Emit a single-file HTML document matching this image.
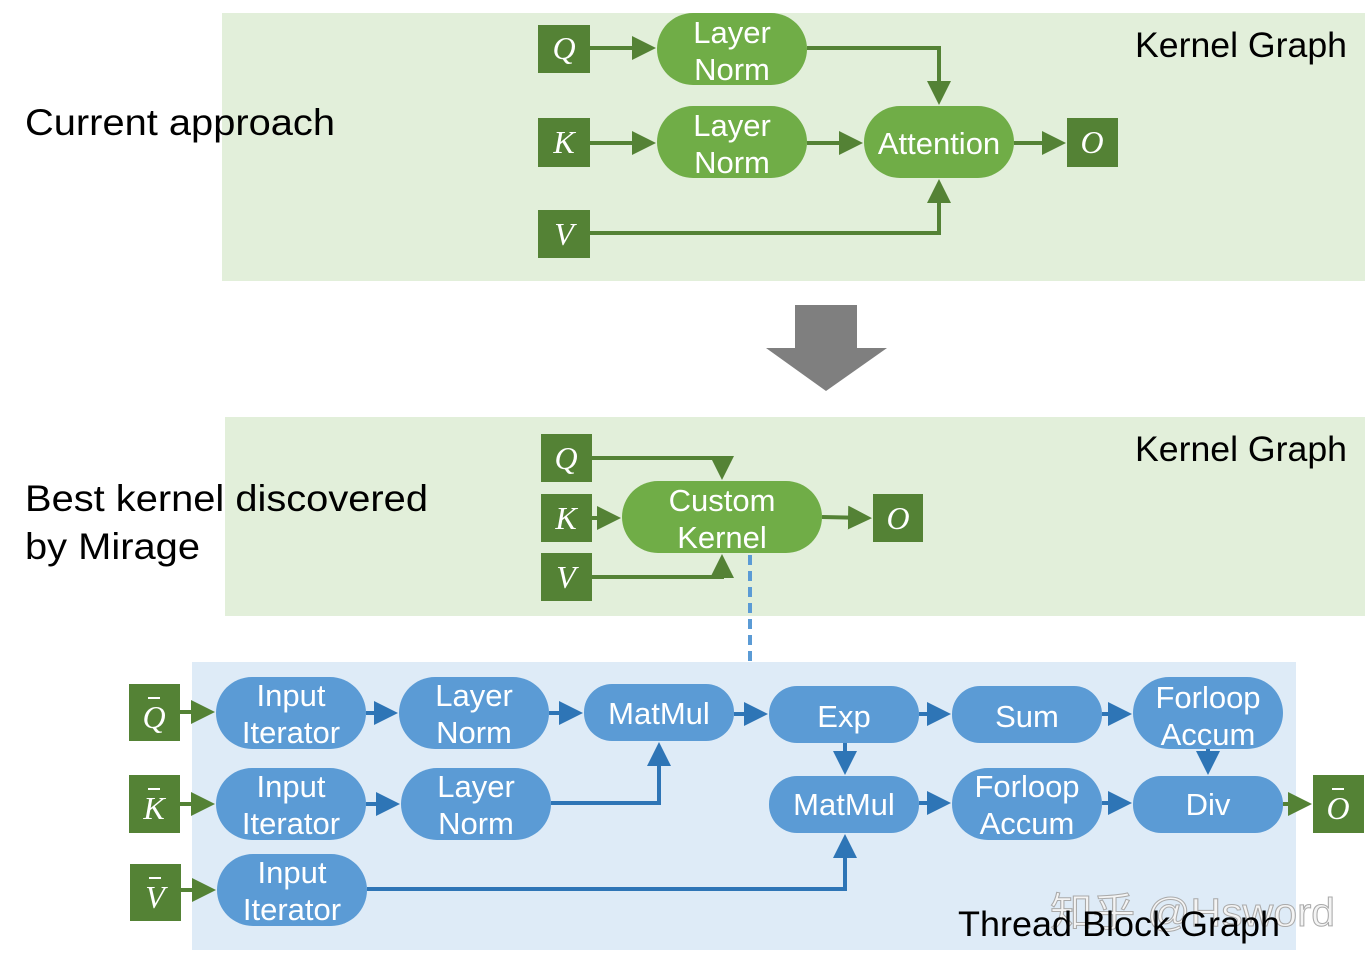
<!DOCTYPE html>
<html><head><meta charset="utf-8"><style>
html,body{margin:0;padding:0;background:#fff;}
svg{display:block;}
.t{font-family:"Liberation Sans",sans-serif;}
.n{font-family:"Liberation Sans",sans-serif;fill:#fff;font-size:31px;text-anchor:middle;}
.v{font-family:"Liberation Serif",serif;font-style:italic;fill:#fff;font-size:32px;text-anchor:middle;}
</style></head><body>
<svg width="1372" height="968" viewBox="0 0 1372 968" xmlns="http://www.w3.org/2000/svg">
<defs>
<marker id="ag" markerWidth="6" markerHeight="6" refX="5" refY="3" orient="auto" markerUnits="strokeWidth"><path d="M0,0 L6,3 L0,6 z" fill="#548235"/></marker>
<marker id="ab" markerWidth="6" markerHeight="6" refX="5" refY="3" orient="auto" markerUnits="strokeWidth"><path d="M0,0 L6,3 L0,6 z" fill="#2e75b6"/></marker>
</defs>
<rect x="222" y="13" width="1143" height="268" fill="#e2efda"/>
<rect x="225" y="417" width="1140" height="199" fill="#e2efda"/>
<rect x="192" y="662" width="1104" height="288" fill="#deebf7"/>

<text class="t" x="25" y="135" font-size="37" textLength="310" lengthAdjust="spacingAndGlyphs">Current approach</text>
<text class="t" x="1135" y="57" font-size="35" textLength="212" lengthAdjust="spacingAndGlyphs">Kernel Graph</text>
<text class="t" x="1135" y="461" font-size="35" textLength="212" lengthAdjust="spacingAndGlyphs">Kernel Graph</text>
<text class="t" x="25" y="511" font-size="37" textLength="403" lengthAdjust="spacingAndGlyphs">Best kernel discovered</text>
<text class="t" x="25" y="559" font-size="37" textLength="175" lengthAdjust="spacingAndGlyphs">by Mirage</text>

<g stroke="#548235" stroke-width="4" fill="none">
<line x1="590" y1="48" x2="652" y2="48" marker-end="url(#ag)"/>
<polyline points="807,48 939,48 939,101" marker-end="url(#ag)"/>
<line x1="590" y1="143" x2="652" y2="143" marker-end="url(#ag)"/>
<line x1="807" y1="143" x2="859" y2="143" marker-end="url(#ag)"/>
<line x1="1014" y1="143" x2="1062" y2="143" marker-end="url(#ag)"/>
<polyline points="590,233 939,233 939,183" marker-end="url(#ag)"/>
</g>
<rect x="538" y="25" width="52" height="48" fill="#548235"/><text class="v" x="564" y="59">Q</text>
<rect x="538" y="118" width="52" height="49" fill="#548235"/><text class="v" x="564" y="153">K</text>
<rect x="538" y="210" width="52" height="48" fill="#548235"/><text class="v" x="564" y="245">V</text>
<rect x="1067" y="118" width="51" height="49" fill="#548235"/><text class="v" x="1092" y="153">O</text>
<rect x="657" y="13" width="150" height="72" rx="36" fill="#70ad47"/><text class="n" x="732" y="43">Layer</text><text class="n" x="732" y="80">Norm</text>
<rect x="657" y="106" width="150" height="72" rx="36" fill="#70ad47"/><text class="n" x="732" y="136">Layer</text><text class="n" x="732" y="173">Norm</text>
<rect x="864" y="106" width="150" height="72" rx="36" fill="#70ad47"/><text class="n" x="939" y="154">Attention</text>

<path d="M795,305 H857 V348 H887 L826,391 L766,348 H795 Z" fill="#7f7f7f"/>

<g stroke="#548235" stroke-width="4" fill="none">
<polyline points="592,458 722,458 722,476" marker-end="url(#ag)"/>
<line x1="592" y1="518" x2="617" y2="518" marker-end="url(#ag)"/>
<polyline points="592,577 722,577 722,558" marker-end="url(#ag)"/>
<line x1="822" y1="517" x2="868" y2="518" marker-end="url(#ag)"/>
</g>
<line x1="750" y1="555" x2="750" y2="662" stroke="#5b9bd5" stroke-width="4" stroke-dasharray="10,6"/>
<rect x="541" y="434" width="51" height="48" fill="#548235"/><text class="v" x="566" y="469">Q</text>
<rect x="541" y="494" width="51" height="48" fill="#548235"/><text class="v" x="566" y="529">K</text>
<rect x="541" y="553" width="51" height="48" fill="#548235"/><text class="v" x="566" y="588">V</text>
<rect x="873" y="494" width="50" height="48" fill="#548235"/><text class="v" x="898" y="529">O</text>
<rect x="622" y="481" width="200" height="72" rx="36" fill="#70ad47"/><text class="n" x="722" y="511">Custom</text><text class="n" x="722" y="548">Kernel</text>

<g stroke="#548235" stroke-width="4" fill="none">
<line x1="180" y1="712" x2="211" y2="712" marker-end="url(#ag)"/>
<line x1="180" y1="804" x2="211" y2="804" marker-end="url(#ag)"/>
<line x1="181" y1="890" x2="212" y2="890" marker-end="url(#ag)"/>
<line x1="1283" y1="804" x2="1308" y2="804" marker-end="url(#ag)"/>
</g>
<g stroke="#2e75b6" stroke-width="4" fill="none">
<line x1="366" y1="713" x2="394" y2="713" marker-end="url(#ab)"/>
<line x1="549" y1="713" x2="579" y2="713" marker-end="url(#ab)"/>
<line x1="734" y1="714" x2="764" y2="714" marker-end="url(#ab)"/>
<line x1="919" y1="714" x2="947" y2="714" marker-end="url(#ab)"/>
<line x1="1102" y1="714" x2="1128" y2="714" marker-end="url(#ab)"/>
<line x1="366" y1="804" x2="396" y2="804" marker-end="url(#ab)"/>
<polyline points="551,803 659,803 659,746" marker-end="url(#ab)"/>
<line x1="845" y1="743" x2="845" y2="771" marker-end="url(#ab)"/>
<line x1="1208" y1="749" x2="1208" y2="771" marker-end="url(#ab)"/>
<line x1="919" y1="803" x2="947" y2="803" marker-end="url(#ab)"/>
<line x1="1102" y1="803" x2="1128" y2="803" marker-end="url(#ab)"/>
<polyline points="367,889 845,889 845,838" marker-end="url(#ab)"/>
</g>
<g fill="#5b9bd5">
<rect x="216" y="677" width="150" height="72" rx="36"/>
<rect x="399" y="677" width="150" height="72" rx="36"/>
<rect x="584" y="684" width="150" height="57" rx="28"/>
<rect x="769" y="686" width="150" height="57" rx="28"/>
<rect x="952" y="686" width="150" height="57" rx="28"/>
<rect x="1133" y="677" width="150" height="72" rx="36"/>
<rect x="216" y="768" width="150" height="72" rx="36"/>
<rect x="401" y="768" width="150" height="72" rx="36"/>
<rect x="769" y="776" width="150" height="57" rx="28"/>
<rect x="952" y="768" width="150" height="72" rx="36"/>
<rect x="1133" y="776" width="150" height="57" rx="28"/>
<rect x="217" y="854" width="150" height="72" rx="36"/>
</g>
<text class="n" x="291" y="706">Input</text><text class="n" x="291" y="743">Iterator</text>
<text class="n" x="474" y="706">Layer</text><text class="n" x="474" y="743">Norm</text>
<text class="n" x="659" y="724">MatMul</text>
<text class="n" x="844" y="727">Exp</text>
<text class="n" x="1027" y="727">Sum</text>
<text class="n" x="1208" y="708">Forloop</text><text class="n" x="1208" y="745">Accum</text>
<text class="n" x="291" y="797">Input</text><text class="n" x="291" y="834">Iterator</text>
<text class="n" x="476" y="797">Layer</text><text class="n" x="476" y="834">Norm</text>
<text class="n" x="844" y="815">MatMul</text>
<text class="n" x="1027" y="797">Forloop</text><text class="n" x="1027" y="834">Accum</text>
<text class="n" x="1208" y="815">Div</text>
<text class="n" x="292" y="883">Input</text><text class="n" x="292" y="920">Iterator</text>

<rect x="129" y="684" width="51" height="57" fill="#548235"/><text class="v" x="154" y="728">Q</text><line x1="148" y1="698" x2="160" y2="698" stroke="#fff" stroke-width="2"/>
<rect x="129" y="775" width="51" height="58" fill="#548235"/><text class="v" x="154" y="819">K</text><line x1="148" y1="789" x2="160" y2="789" stroke="#fff" stroke-width="2"/>
<rect x="130" y="864" width="51" height="57" fill="#548235"/><text class="v" x="155" y="908">V</text><line x1="149" y1="878" x2="161" y2="878" stroke="#fff" stroke-width="2"/>
<rect x="1313" y="775" width="51" height="58" fill="#548235"/><text class="v" x="1338" y="819">O</text><line x1="1332" y1="789" x2="1344" y2="789" stroke="#fff" stroke-width="2"/>

<text x="1050" y="926" font-size="40" fill="#f4f4f4" stroke="#aaa" stroke-width="1" font-family="'Liberation Sans','Noto Sans CJK SC',sans-serif" textLength="285" lengthAdjust="spacingAndGlyphs">知乎 @Hsword</text>
<text class="t" x="958" y="936" font-size="35" textLength="322" lengthAdjust="spacingAndGlyphs">Thread Block Graph</text>
</svg>
</body></html>
